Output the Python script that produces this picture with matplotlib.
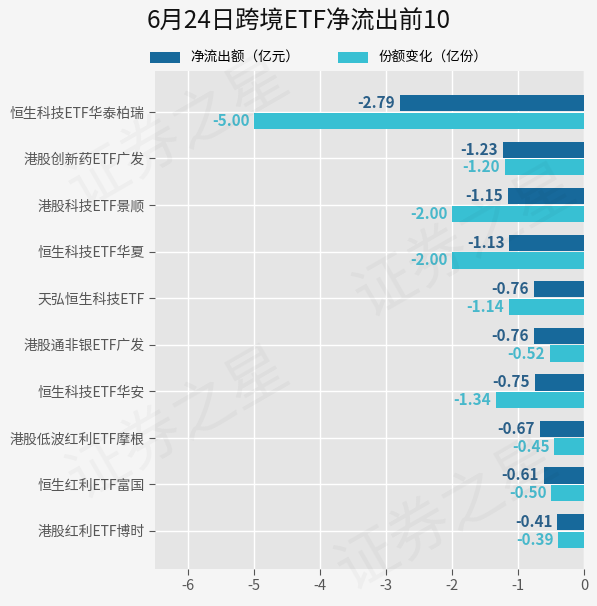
import matplotlib
matplotlib.use("Agg")
import matplotlib.pyplot as plt
import numpy as np

plt.rcParams['font.family'] = ['Noto Sans CJK SC', 'DejaVu Sans']

categories = ["恒生科技ETF华泰柏瑞", "港股创新药ETF广发", "港股科技ETF景顺", "恒生科技ETF华夏",
              "天弘恒生科技ETF", "港股通非银ETF广发", "恒生科技ETF华安", "港股低波红利ETF摩根",
              "恒生红利ETF富国", "港股红利ETF博时"]
net_outflow = [-2.79, -1.23, -1.15, -1.13, -0.76, -0.76, -0.75, -0.67, -0.61, -0.41]
share_change = [-5.00, -1.20, -2.00, -2.00, -1.14, -0.52, -1.34, -0.45, -0.50, -0.39]
series_names = ["净流出额（亿元）", "份额变化（亿份）"]
xticks = [-6, -5, -4, -3, -2, -1, 0]

c1 = "#17699b"
c2 = "#38c0d3"
t1 = "#2a5f88"
t2 = "#47b8cb"

fig = plt.figure(figsize=(5.97, 6.06), dpi=100)
fig.patch.set_facecolor("#f5f5f5")
ax = fig.add_axes([155/597, 1-569/606, (584-155)/597, (569-71)/606])
ax.set_facecolor("#e5e5e5")

y = np.arange(len(categories))
h = 0.35
off = 0.19
b1 = ax.barh(y - off, net_outflow, height=h, color=c1, label=series_names[0], zorder=3)
b2 = ax.barh(y + off, share_change, height=h, color=c2, label=series_names[1], zorder=3)

for yi, v in zip(y, net_outflow):
    ax.text(v - 0.07, yi - off, f"{v:.2f}", ha="right", va="center", color=t1,
            fontsize=11, fontweight="bold", zorder=4)
for yi, v in zip(y, share_change):
    ax.text(v - 0.07, yi + off, f"{v:.2f}", ha="right", va="center", color=t2,
            fontsize=11, fontweight="bold", zorder=4)

ax.set_xlim(-6.5, 0)
ax.set_ylim(9.82, -0.88)
ax.set_yticks(y)
ax.set_yticklabels(categories, fontsize=10, color="#555555")
ax.set_xticks(xticks)
ax.set_xticklabels([str(t) for t in xticks], fontsize=10.5, color="#555555")
ax.grid(True, color="white", linewidth=1, zorder=1)
for s in ax.spines.values():
    s.set_visible(False)
ax.tick_params(axis="both", length=4, color="#555555")

fig.text(0.5, 1-22/606, "6月24日跨境ETF净流出前10", ha="center", va="center",
         fontsize=17.5, color="#111111")
fig.legend(handles=[b1, b2], labels=series_names, loc="center", ncol=2,
           bbox_to_anchor=(0.534, 1-58/606), frameon=False, fontsize=9.8,
           handlelength=2.2, handleheight=0.9, columnspacing=2.8)

# watermark
for (wx, wy) in [(0.3, 0.78), (0.78, 0.6), (0.3, 0.3), (0.75, 0.15)]:
    fig.text(wx, wy, "证券之星", fontsize=44, color="#000000", alpha=0.03,
             rotation=30, ha="center", va="center")

fig.savefig("out.png", dpi=100, facecolor=fig.get_facecolor())
